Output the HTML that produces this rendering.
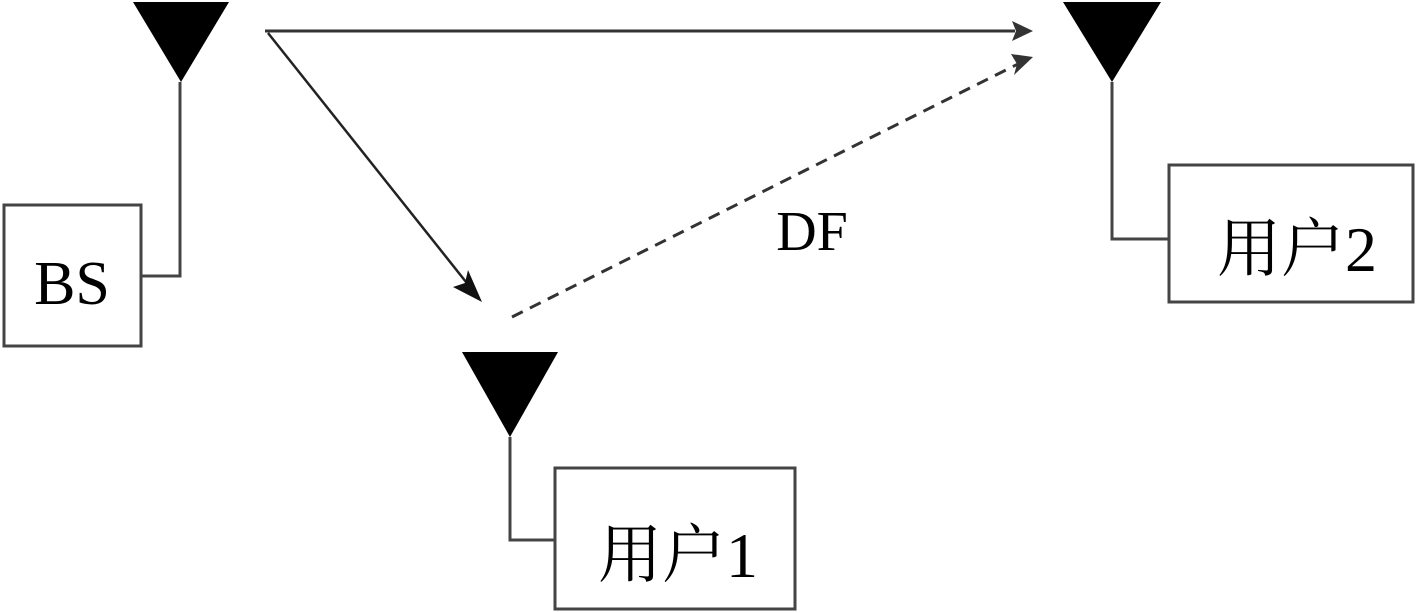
<!DOCTYPE html>
<html><head><meta charset="utf-8"><style>
html,body{margin:0;padding:0;background:#fff;}
svg{display:block;}
text{font-family:"Liberation Serif","Noto Serif CJK SC",serif;fill:#000;}
</style></head><body>
<svg width="1417" height="613" viewBox="0 0 1417 613" xmlns="http://www.w3.org/2000/svg">
<!-- BS -->
<polygon points="133,2 229,2 181,82" fill="#000"/>
<polyline points="180,82 180,276 141,276" fill="none" stroke="#444" stroke-width="3"/>
<rect x="4" y="205" width="137" height="141" fill="#fff" stroke="#444" stroke-width="3"/>
<text x="72" y="304" font-size="62" text-anchor="middle">BS</text>
<!-- User2 -->
<polygon points="1063,2 1161,2 1112,82" fill="#000"/>
<polyline points="1112,82 1112,239 1169,239" fill="none" stroke="#444" stroke-width="3"/>
<rect x="1169" y="165" width="244" height="137" fill="#fff" stroke="#444" stroke-width="3"/>
<text x="1297" y="271" font-size="64" text-anchor="middle">用户2</text>
<!-- User1 -->
<polygon points="462,352 558,352 510,437" fill="#000"/>
<polyline points="510,437 510,540 555,540" fill="none" stroke="#444" stroke-width="3"/>
<rect x="555" y="468" width="240" height="141" fill="#fff" stroke="#444" stroke-width="3"/>
<text x="678" y="577" font-size="64" text-anchor="middle">用户1</text>
<!-- arrows -->
<line x1="265" y1="31" x2="1015" y2="31" stroke="#333" stroke-width="3"/>
<polygon points="1033,31 1012,21 1016,31 1012,41" fill="#333"/>
<line x1="268" y1="33" x2="470" y2="287" stroke="#222" stroke-width="2.5"/>
<polygon points="482,302 453,287 465,283 468,270" fill="#111"/>
<line x1="512" y1="317" x2="1018" y2="64" stroke="#333" stroke-width="3" stroke-dasharray="12,8"/>
<polygon points="1033,57 1011,54 1017,64 1014,75" fill="#333"/>
<text x="812" y="250" font-size="56" text-anchor="middle">DF</text>
</svg>
</body></html>
